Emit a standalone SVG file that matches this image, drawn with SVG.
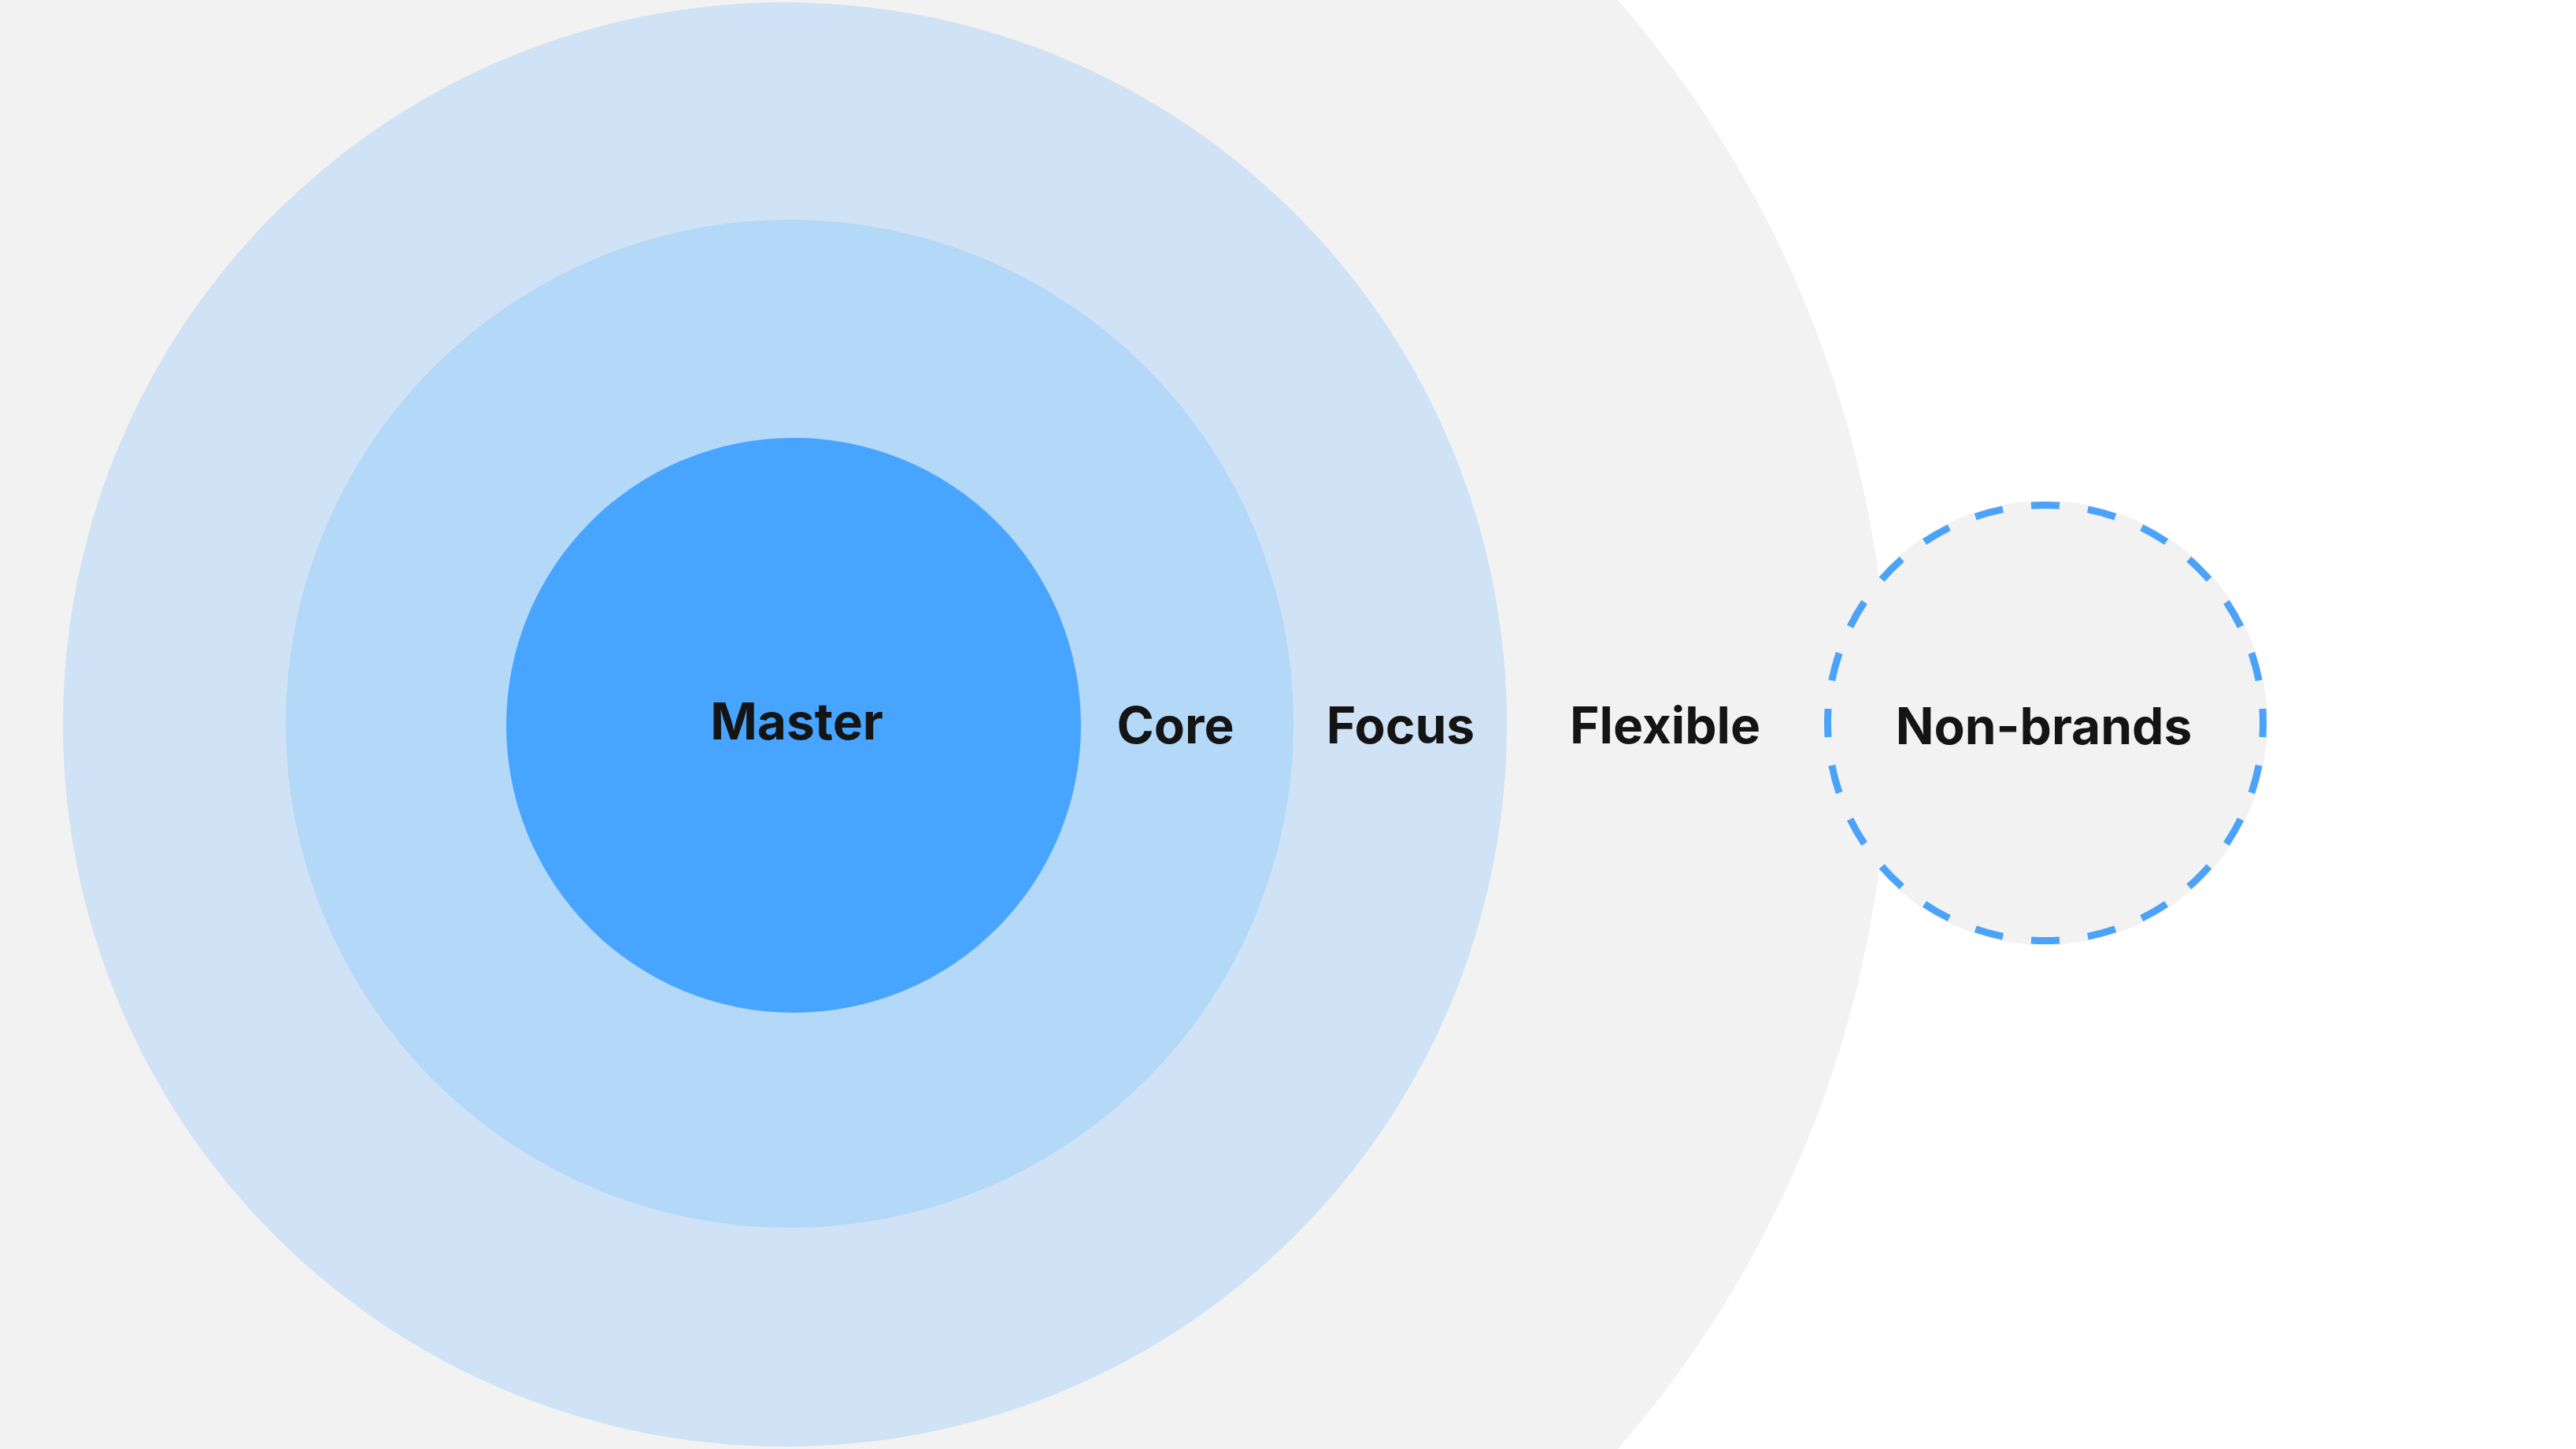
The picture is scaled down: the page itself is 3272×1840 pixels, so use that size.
<svg xmlns="http://www.w3.org/2000/svg" width="3272" height="1840" viewBox="0 0 3272 1840">
  <style>
    .lbl { font-family: Inter, "Noto Sans", "Liberation Sans", sans-serif; font-weight: 700; font-size: 64px; fill: #141414; text-anchor: middle; }
  </style>
  <rect x="0" y="0" width="3272" height="1840" fill="#ffffff"/>
  <g id="flexible">
    <circle cx="997" cy="920" r="1402" fill="#f2f2f2"/>
    <text class="lbl" x="2115" y="944">Flexible</text>
  </g>
  <g id="focus">
    <circle cx="997" cy="920" r="917" fill="#d0e2f5"/>
    <text class="lbl" x="1779" y="944">Focus</text>
  </g>
  <g id="core">
    <circle cx="1003" cy="919" r="640" fill="#b3d8f8"/>
    <text class="lbl" x="1493" y="944">Core</text>
  </g>
  <g id="master">
    <circle cx="1008" cy="921" r="365" fill="#47a5ff"/>
    <text class="lbl" x="1012" y="939">Master</text>
  </g>
  <g id="non-brands">
    <circle cx="2598" cy="918" r="282" fill="#f2f2f2"/>
    <circle cx="2598" cy="918" r="276.5" fill="none" stroke="#4aa3f8" stroke-width="9" pathLength="240" stroke-dasharray="5 5" stroke-dashoffset="2.5"/>
    <text class="lbl" x="2596" y="945">Non-brands</text>
  </g>
  <g id="connectors"></g>
</svg>
